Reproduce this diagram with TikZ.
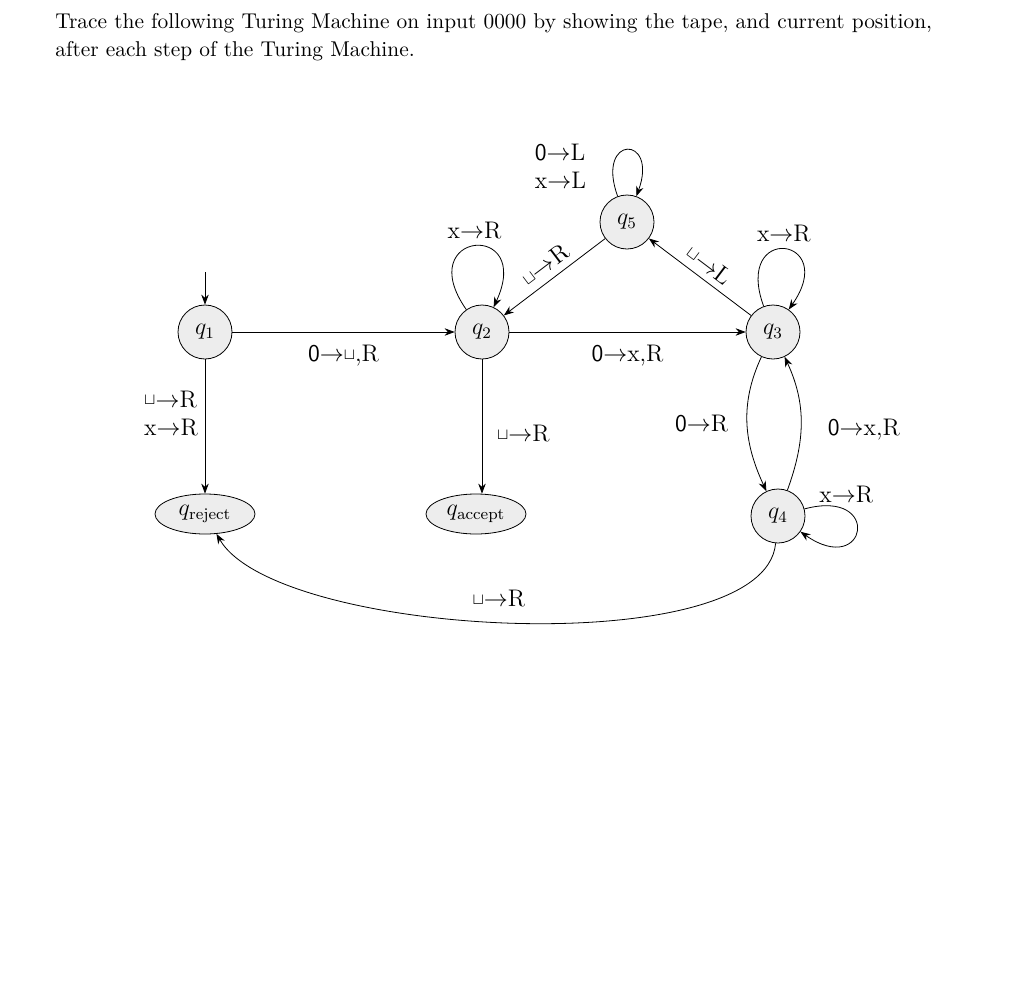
\documentclass[tikz,border=0pt]{standalone}
\usetikzlibrary{arrows.meta,shapes.geometric}
\begin{document}
\begin{tikzpicture}[x=0.5pt,y=-0.5pt,>={Stealth[length=5pt]},
  st/.style={circle,draw,fill=black!7,minimum size=27pt,inner sep=0pt,font=\large},
  est/.style={ellipse,draw,fill=black!7,minimum height=20pt,minimum width=50pt,inner sep=1pt,font=\large},
  lb/.style={font=\fontsize{12}{14}\selectfont}]
\useasboundingbox (0,0) rectangle (1024,1007);
\node[anchor=west,align=left,inner sep=0pt,font=\fontsize{10.7}{14}\selectfont] (txt) at (55,37) {Trace the following Turing Machine on input 0000 by showing the tape, and current position,\\ after each step of the Turing Machine.};
\newcommand{\zr}{\textsf{0}}
\newcommand{\bl}{\raisebox{0.2ex}{$\scriptstyle\sqcup$}}
\node[st] (q1) at (205,332) {$q_1$};
\node[st] (q2) at (482,332) {$q_2$};
\node[st] (q3) at (773,332) {$q_3$};
\node[st] (q5) at (627,222) {$q_5$};
\node[st] (q4) at (778,516) {$q_4$};
\node[est] (qr) at (205,514) {$q_{\mathrm{reject}}$};
\node[est] (qa) at (476,514) {$q_{\mathrm{accept}}$};
\coordinate (s) at (205,272);
\draw[->] (s) -- (q1);
\draw[->] (q1) -- node[lb,below=3pt]{\zr$\to$\bl,R} (q2);
\draw[->] (q1) -- node[lb,left,align=left,pos=0.4]{\bl$\to$R\\x$\to$R} (qr);
\draw[->] (q2) -- node[lb,right=4pt,pos=0.55]{\bl$\to$R} (q2 |- qa.north);
\draw[->] (q2) -- node[lb,below=3pt]{\zr$\to$x,R} (q3);
\draw[->] (q2) to[out=125,in=65,looseness=9] node[lb,above]{x$\to$R} (q2);
\draw[->] (q5) -- node[lb,sloped,above]{\bl$\to$R} (q2);
\draw[->] (q3) -- node[lb,sloped,above]{\bl$\to$L} (q5);
\draw[->] (q5) to[out=110,in=70,looseness=9] node[lb,left=10pt,pos=0.2,align=left]{\zr$\to$L\\x$\to$L} (q5);
\draw[->] (q3) to[out=110,in=55,looseness=9] node[lb,above]{x$\to$R} (q3);
\draw[->] (q3) to[out=-115,in=115] node[lb,left=6pt]{\zr$\to$R} (q4);
\draw[->] (q4) to[out=70,in=-65] node[lb,right=10pt,pos=0.45]{\zr$\to$x,R} (q3);
\draw[->] (q4) to[out=15,in=-35,looseness=9] node[lb,above,pos=0.25]{x$\to$R} (q4);
\draw[->] (q4) to[out=-95,in=-60,looseness=0.55] node[lb,above=4pt,pos=0.52]{\bl$\to$R} (qr);
\end{tikzpicture}
\end{document}
